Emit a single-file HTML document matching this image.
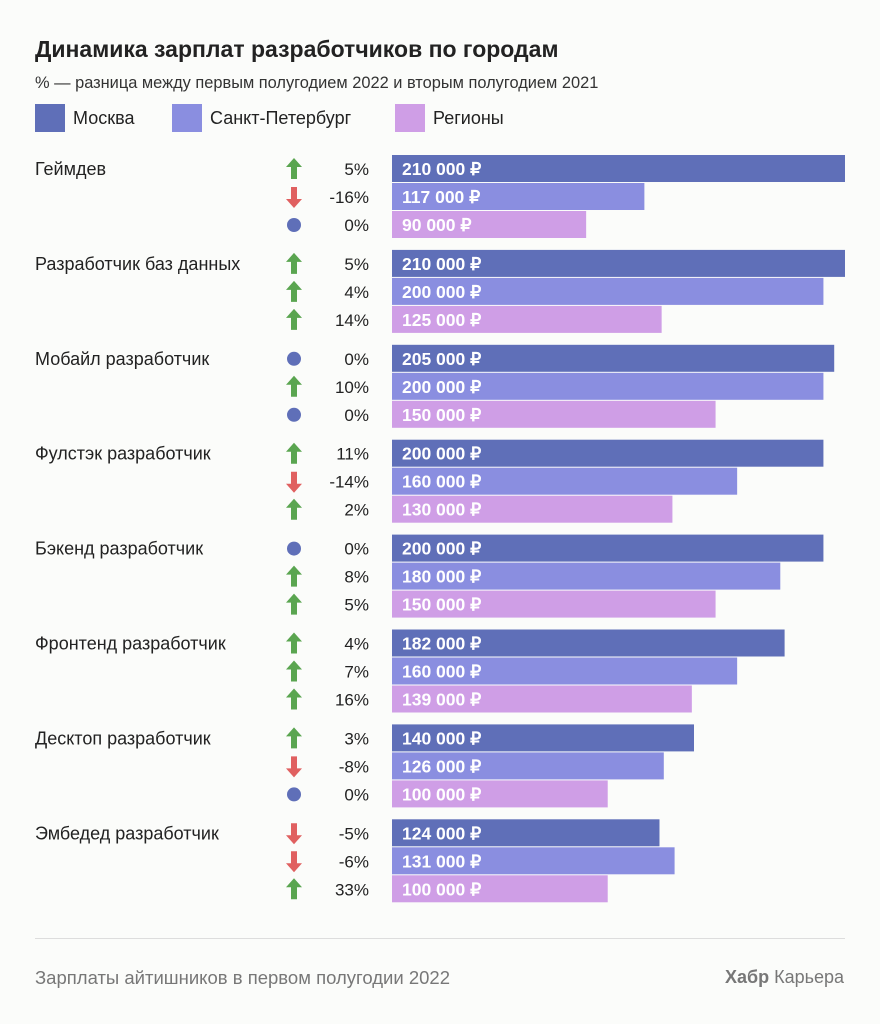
<!DOCTYPE html>
<html><head><meta charset="utf-8"><style>
body{margin:0;background:#fbfcfa;font-family:"Liberation Sans","Noto Sans CJK SC",sans-serif;color:#222;}
#root{position:relative;width:880px;height:1024px;overflow:hidden;}
.t{position:absolute;white-space:nowrap;}
</style></head><body>
<div id="root">
<div class="t" style="left:35px;top:36px;font-size:23px;font-weight:bold;color:#222;">Динамика зарплат разработчиков по городам</div>
<div class="t" style="left:35px;top:74px;font-size:16.4px;color:#333;">% — разница между первым полугодием 2022 и вторым полугодием 2021</div>
<div class="t" style="left:35px;top:104px;"><span style="display:inline-block;width:30px;height:28px;background:#5f6fb8;vertical-align:middle"></span><span style="font-size:18px;margin-left:8px;vertical-align:middle">Москва</span></div>
<div class="t" style="left:172px;top:104px;"><span style="display:inline-block;width:30px;height:28px;background:#8a8ee0;vertical-align:middle"></span><span style="font-size:18px;margin-left:8px;vertical-align:middle">Санкт-Петербург</span></div>
<div class="t" style="left:395px;top:104px;"><span style="display:inline-block;width:30px;height:28px;background:#cf9ee6;vertical-align:middle"></span><span style="font-size:18px;margin-left:8px;vertical-align:middle">Регионы</span></div>
<svg id="chart" width="880" height="1024" style="position:absolute;left:0;top:0"></svg>
<div style="position:absolute;left:35px;top:938px;width:810px;height:1px;background:#ddd"></div>
<div class="t" style="left:35px;top:967px;font-size:18.5px;color:#777;">Зарплаты айтишников в первом полугодии 2022</div>
<div class="t" style="right:36px;top:967px;font-size:18px;color:#777;"><b>Хабр</b> Карьера</div>
</div>
<script>
const categories=["Геймдев","Разработчик баз данных","Мобайл разработчик","Фулстэк разработчик","Бэкенд разработчик","Фронтенд разработчик","Десктоп разработчик","Эмбедед разработчик"];
const moscow=[210000,210000,205000,200000,200000,182000,140000,124000];
const spb=[117000,200000,200000,160000,180000,160000,126000,131000];
const regions=[90000,125000,150000,130000,150000,139000,100000,100000];
const moscowPct=[5,5,0,11,0,4,3,-5];
const spbPct=[-16,4,10,-14,8,7,-8,-6];
const regionsPct=[0,14,0,2,5,16,0,33];
const series=[moscow,spb,regions];
const pcts=[moscowPct,spbPct,regionsPct];
const colors=["#5f6fb8","#8a8ee0","#cf9ee6"];
const names=["moscow","spb","regions"];
const NS="http://www.w3.org/2000/svg";
const svg=document.getElementById('chart');
const x0=392,maxW=453,maxV=210000;
function xs(v){return v/maxV*maxW;}
function ys(g,s){return 155+g*94.9+s*28;}
function mk(tag,attrs){const e=document.createElementNS(NS,tag);for(const k in attrs)e.setAttribute(k,attrs[k]);svg.appendChild(e);return e;}
function fmt(v){return String(v).replace(/\B(?=(\d{3})+(?!\d))/g,' ')+' ₽';}
categories.forEach((c,g)=>{
  const lab=mk('text',{x:35,y:ys(g,0)+20,'font-size':18,fill:'#222'});
  lab.textContent=c;
  
  
  series.forEach((arr,s)=>{
    const y=ys(g,s);
    const r=mk('rect',{x:x0,y:y,width:xs(arr[g]),height:27,fill:colors[s]});
    
    
    const t=mk('text',{x:x0+10,y:y+20,'font-size':17.5,'font-weight':'bold',fill:'#fff'});
    t.textContent=fmt(arr[g]);
    
    
    const p=pcts[s][g];
    const pt=mk('text',{x:369,y:y+20,'font-size':17,fill:'#222','text-anchor':'end'});
    pt.textContent=p+'%';
    
    
    const cx=294,cy=y+14;let ic;
    if(p>0){ic=mk('path',{d:`M${cx} ${cy-11}L${cx+8} ${cy-2}H${cx+3}V${cy+10}H${cx-3}V${cy-2}H${cx-8}Z`,fill:'#5aa550'});}
    else if(p<0){ic=mk('path',{d:`M${cx} ${cy+11}L${cx+8} ${cy+2}H${cx+3}V${cy-10}H${cx-3}V${cy+2}H${cx-8}Z`,fill:'#e06060'});}
    else{ic=mk('circle',{cx:cx,cy:cy,r:7,fill:'#5f6fb8'});}
    
    
  });
});
</script>
</body></html>
